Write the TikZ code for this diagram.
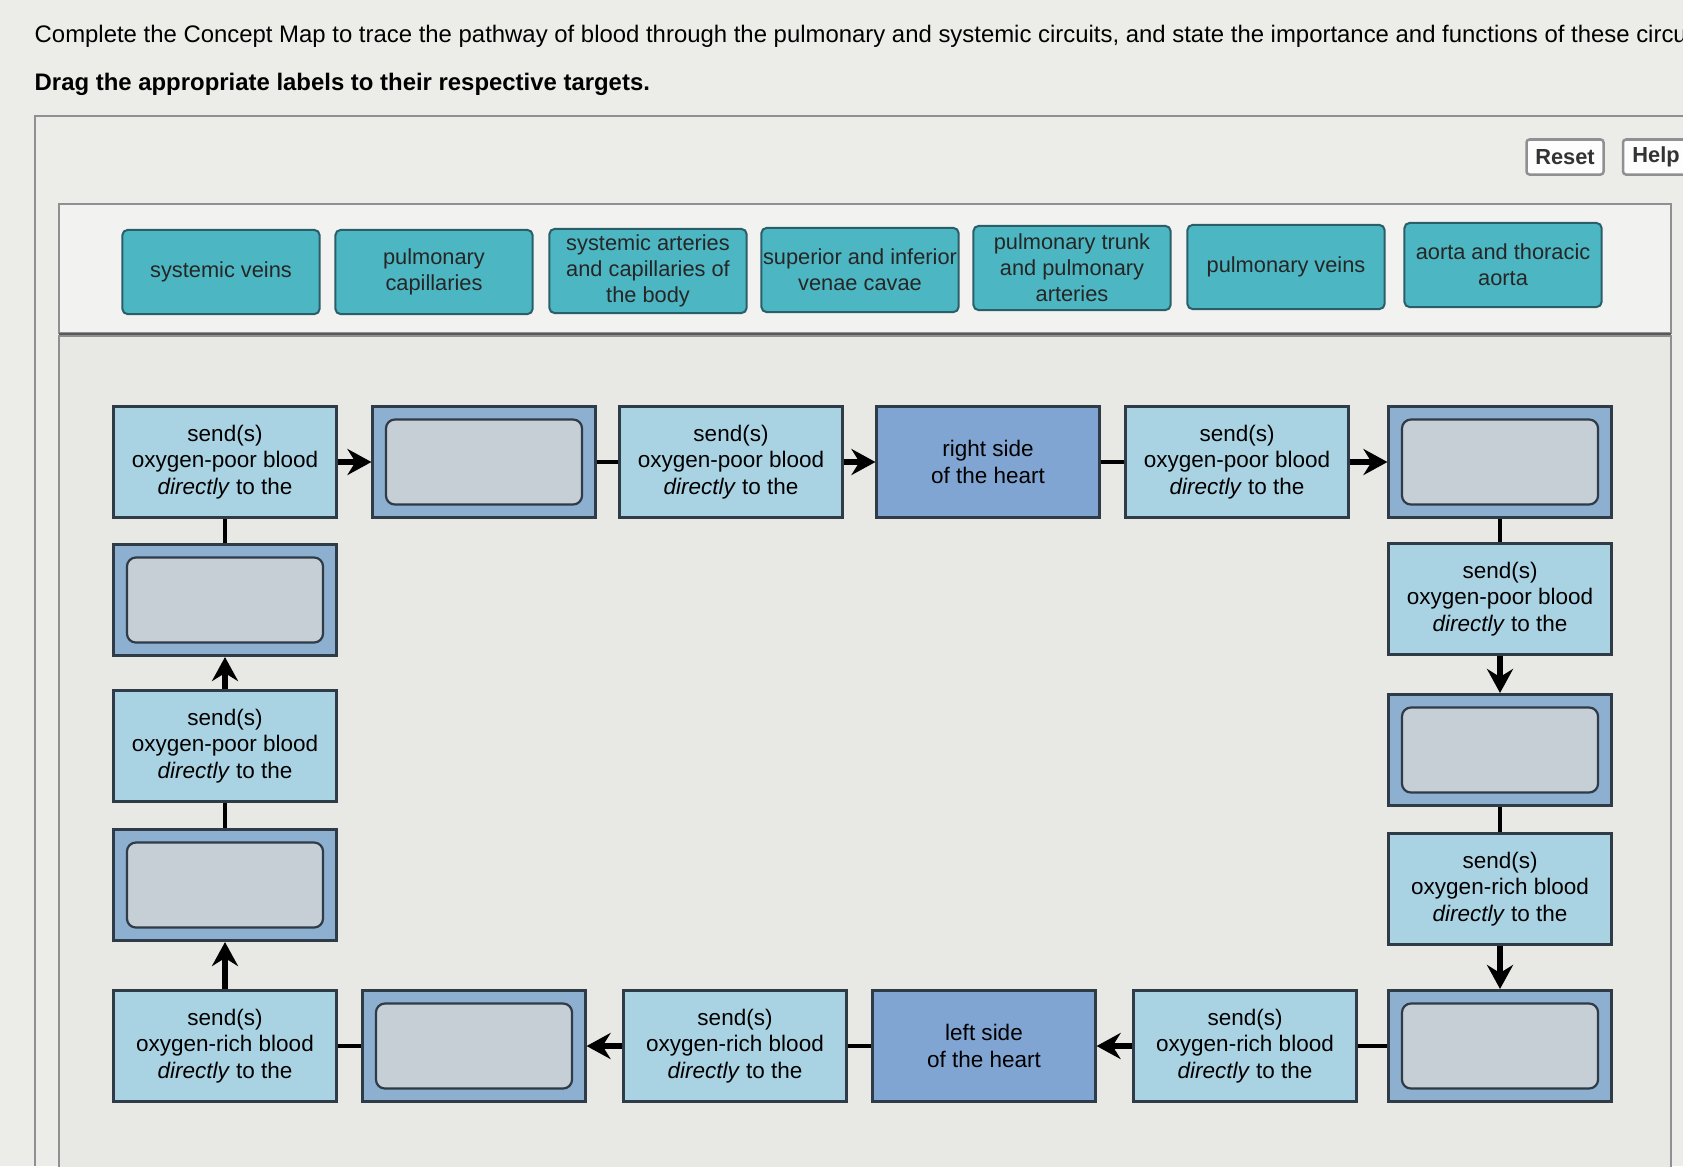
\documentclass[tikz,border=0pt]{standalone}
\usepackage{fontspec}
\setmainfont{Liberation Sans}
\usetikzlibrary{arrows.meta,positioning}

\definecolor{pagebg}{HTML}{ECECE9}
\definecolor{traybg}{HTML}{F2F2F0}
\definecolor{panelbg}{HTML}{E8E8E5}
\definecolor{framegray}{HTML}{8E9092}
\definecolor{boxline}{HTML}{2F3B47}
\definecolor{sendfill}{HTML}{A9D3E2}
\definecolor{heartfill}{HTML}{80A5D2}
\definecolor{dropfill}{HTML}{8DAFD0}
\definecolor{slotfill}{HTML}{C6CED6}
\definecolor{tilefill}{HTML}{4CB6C2}
\definecolor{tileline}{HTML}{2A5E68}

\tikzset{
  sendbox/.style={draw=boxline, line width=0.03cm, fill=sendfill, inner sep=0pt,
    minimum width=2.22cm, minimum height=1.11cm, align=center,
    font=\fontsize{6.4}{7.6}\selectfont},
  heartbox/.style={sendbox, fill=heartfill},
  dropbox/.style={draw=boxline, line width=0.03cm, fill=dropfill, inner sep=0pt,
    minimum width=2.22cm, minimum height=1.11cm,
    path picture={\draw[boxline, line width=0.022cm, fill=slotfill, rounded corners=0.09cm]
      ([shift={(0.13cm,-0.13cm)}]path picture bounding box.north west) rectangle
      ([shift={(-0.13cm,0.13cm)}]path picture bounding box.south east);}},
  tile/.style={draw=tileline, line width=0.02cm, fill=tilefill, rounded corners=0.05cm,
    minimum width=1.97cm, minimum height=0.84cm, inner sep=0pt, align=center,
    font=\fontsize{6.2}{7.4}\selectfont, text=black!85},
  btn/.style={draw=framegray, line width=0.025cm, fill=white!90!pagebg, rounded corners=0.03cm,
    minimum height=0.35cm, inner sep=0pt, font=\fontsize{6.2}{7}\selectfont\bfseries, text=black!80},
  flow/.style={line width=0.055cm, -{Stealth[length=0.24cm, width=0.26cm, inset=0.08cm]}},
  link/.style={line width=0.045cm},
}

\begin{document}
\begin{tikzpicture}[x=0.01cm, y=-0.01cm]
  % canvas, 1683 x 1166 px
  \fill[pagebg] (0,0) rectangle (1683,1166);
  \useasboundingbox (0,0) rectangle (1683,1166);

  % question text
  \node[anchor=west, inner sep=0pt, font=\fontsize{6.8}{8}\selectfont] (question) at (34,36)
    {Complete the Concept Map to trace the pathway of blood through the pulmonary and systemic circuits, and state the importance and functions of these circu};
  \node[anchor=west, inner sep=0pt, font=\fontsize{6.8}{8}\selectfont\bfseries] (task) at (34,84)
    {Drag the appropriate labels to their respective targets.};

  % outer frame, tray and panel
  \draw[framegray, line width=0.02cm, fill=pagebg] (1683,116) -- (35,116) -- (35,1166);
  \filldraw[draw=framegray, line width=0.02cm, fill=traybg] (59,204) rectangle (1671,333);
  \filldraw[draw=framegray, line width=0.02cm, fill=panelbg] (59,336) rectangle (1671,1170);
  \draw[black!65, line width=0.025cm] (59,334) -- (1671,334);

  \node[btn, minimum width=0.77cm] (reset) at (1565,157) {Reset};
  \node[btn, minimum width=0.66cm] (help) at (1656,157) {Help};

  % labels to drag
  \node[tile] (sysveins) at (221,272) {systemic veins};
  \node[tile] (pulcap) at (434,272) {pulmonary\\capillaries};
  \node[tile] (sysart) at (648,271) {systemic arteries\\and capillaries of\\the body};
  \node[tile] (cavae) at (860,270) {superior and inferior\\venae cavae};
  \node[tile] (trunk) at (1072,268) {pulmonary trunk\\and pulmonary\\arteries};
  \node[tile] (pulveins) at (1286,267) {pulmonary veins};
  \node[tile] (aorta) at (1503,265) {aorta and thoracic\\aorta};

  % top row
  \node[sendbox] (poorA) at (225,462) {send(s)\\oxygen-poor blood\\\textit{directly} to the};
  \node[dropbox] (dropA) at (484,462) {};
  \node[sendbox] (poorB) at (731,462) {send(s)\\oxygen-poor blood\\\textit{directly} to the};
  \node[heartbox] (rightheart) at (988,462) {right side\\of the heart};
  \node[sendbox] (poorC) at (1237,462) {send(s)\\oxygen-poor blood\\\textit{directly} to the};
  \node[dropbox] (dropB) at (1500,462) {};

  % right column
  \node[sendbox] (poorD) at (1500,599) {send(s)\\oxygen-poor blood\\\textit{directly} to the};
  \node[dropbox] (dropC) at (1500,750) {};
  \node[sendbox] (richA) at (1500,889) {send(s)\\oxygen-rich blood\\\textit{directly} to the};
  \node[dropbox] (dropD) at (1500,1046) {};

  % bottom row
  \node[sendbox] (richC) at (1245,1046) {send(s)\\oxygen-rich blood\\\textit{directly} to the};
  \node[heartbox] (leftheart) at (984,1046) {left side\\of the heart};
  \node[sendbox] (richB) at (735,1046) {send(s)\\oxygen-rich blood\\\textit{directly} to the};
  \node[dropbox] (dropE) at (474,1046) {};
  \node[sendbox] (richD) at (225,1046) {send(s)\\oxygen-rich blood\\\textit{directly} to the};

  % left column
  \node[dropbox] (dropF) at (225,885) {};
  \node[sendbox] (poorE) at (225,746) {send(s)\\oxygen-poor blood\\\textit{directly} to the};
  \node[dropbox] (dropG) at (225,600) {};

  % connectors
  \draw[flow] (poorA) -- (dropA);
  \draw[link] (dropA) -- (poorB);
  \draw[flow] (poorB) -- (rightheart);
  \draw[link] (rightheart) -- (poorC);
  \draw[flow] (poorC) -- (dropB);
  \draw[link] (dropB) -- (poorD);
  \draw[flow] (poorD) -- (dropC);
  \draw[link] (dropC) -- (richA);
  \draw[flow] (richA) -- (dropD);
  \draw[link] (dropD) -- (richC);
  \draw[flow] (richC) -- (leftheart);
  \draw[link] (leftheart) -- (richB);
  \draw[flow] (richB) -- (dropE);
  \draw[link] (dropE) -- (richD);
  \draw[flow] (richD) -- (dropF);
  \draw[link] (dropF) -- (poorE);
  \draw[flow] (poorE) -- (dropG);
  \draw[link] (dropG) -- (poorA);
\end{tikzpicture}
\end{document}
